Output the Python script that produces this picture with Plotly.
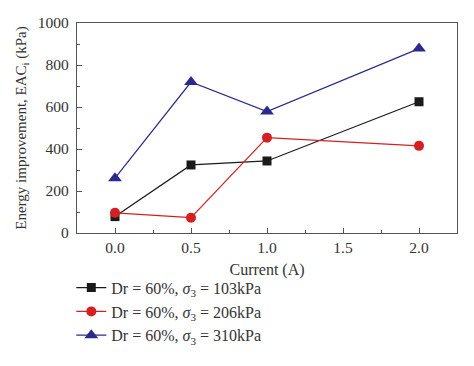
import plotly.graph_objects as go

current = [0.0, 0.5, 1.0, 2.0]
eac_103 = [78, 324, 343, 625]
eac_206 = [96, 73, 454, 415]
eac_310 = [261, 719, 578, 878]
names = ["Dr = 60%, <i>σ</i><sub>3</sub> = 103kPa",
         "Dr = 60%, <i>σ</i><sub>3</sub> = 206kPa",
         "Dr = 60%, <i>σ</i><sub>3</sub> = 310kPa"]
colors = ["#1a1a1a", "#d42020", "#2b2a8c"]
symbols = ["square", "circle", "triangle-up"]
sizes = [9, 10, 12]

fig = go.Figure()
for ys, n, c, s, sz in zip([eac_103, eac_206, eac_310], names, colors, symbols, sizes):
    fig.add_trace(go.Scatter(x=current, y=ys, name=n, mode="lines+markers",
                             line=dict(color=c, width=1.2),
                             marker=dict(symbol=s, size=sz, color=c)))

font = dict(family="Liberation Serif, Times New Roman, serif", size=15.5, color="#333")
fig.update_layout(
    width=474, height=366,
    margin=dict(l=77, r=17, t=23, b=133),
    paper_bgcolor="white", plot_bgcolor="white",
    font=font,
    showlegend=True,
    legend=dict(x=-0.015, y=-0.57, xanchor="left", yanchor="bottom",
                bgcolor="rgba(0,0,0,0)", tracegroupgap=0,
                font=dict(size=16), itemwidth=30),
)
fig.update_xaxes(range=[-0.25, 2.25], tickvals=[0, 0.5, 1.0, 1.5, 2.0],
                 ticktext=["0.0", "0.5", "1.0", "1.5", "2.0"],
                 ticks="inside", ticklen=5, tickcolor="#555",
                 minor=dict(ticks="inside", ticklen=3, dtick=0.25, tickcolor="#555"),
                 showline=True, linecolor="#555", linewidth=1.2, mirror=True,
                 showgrid=False, zeroline=False, automargin=False,
                 title=dict(text="Current (A)", standoff=9, font=dict(size=16)))
fig.update_yaxes(range=[0, 1000], tickvals=[0, 200, 400, 600, 800, 1000],
                 ticks="inside", ticklen=5, tickcolor="#555",
                 minor=dict(ticks="inside", ticklen=3, dtick=100, tickcolor="#555"),
                 showline=True, linecolor="#555", linewidth=1.2, mirror=True,
                 showgrid=False, zeroline=False, automargin=False,
                 ticklabelstandoff=4,
                 title=dict(text="Energy improvement, EAC<sub>i</sub> (kPa)", standoff=7,
                            font=dict(size=15)))

fig.write_html("out.html", config={"displayModeBar": False},
               post_script="document.body.style.margin='0';document.body.style.overflow='hidden';")
